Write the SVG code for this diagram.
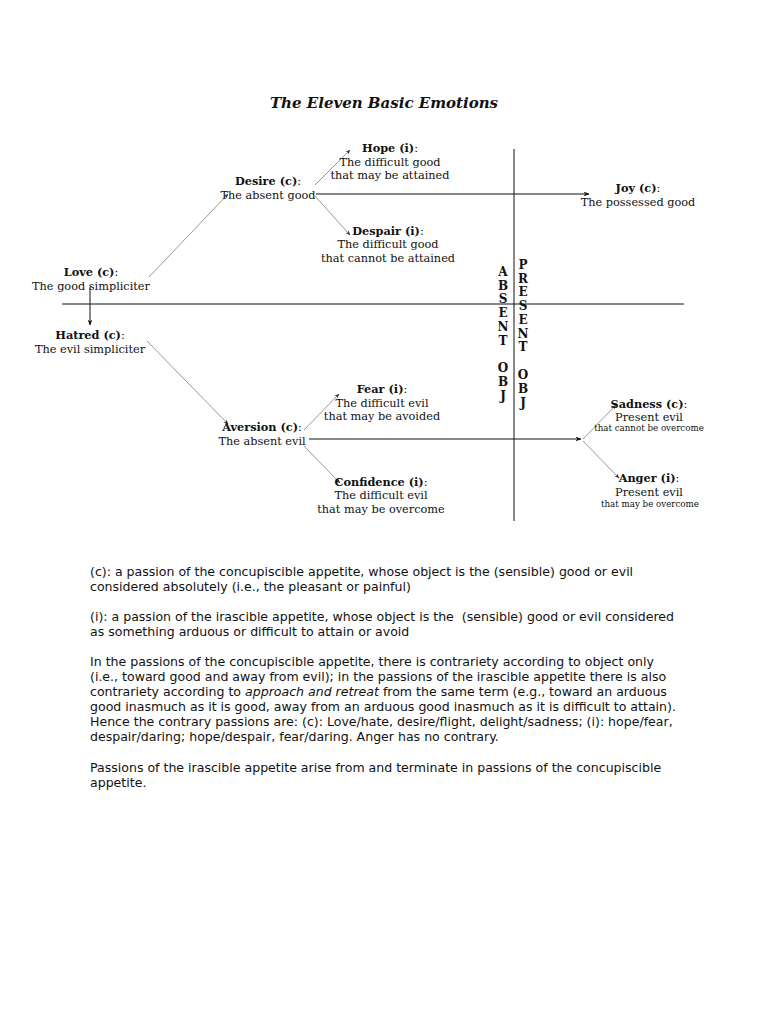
<svg xmlns="http://www.w3.org/2000/svg" width="768" height="1024" viewBox="0 0 768 1024">
<style>
.t{font-family:"DejaVu Serif",serif;font-size:11.3px;fill:#111;text-anchor:middle}
.b{font-weight:bold}
.s{font-size:8.7px}
.title{font-family:"DejaVu Serif",serif;font-size:15px;font-weight:bold;font-style:italic;text-anchor:middle;fill:#111}
.ax{font-family:"DejaVu Serif",serif;font-size:12px;font-weight:bold;text-anchor:middle;fill:#111}
.body{font-family:"DejaVu Sans",sans-serif;font-size:12.55px;fill:#111}
.g{stroke:#999;stroke-width:1;fill:none;marker-end:url(#ag)}
.k{stroke:#111;stroke-width:1;fill:none;marker-end:url(#ak)}
.axis{stroke:#111;stroke-width:1;fill:none}
</style>
<defs>
<marker id="ag" viewBox="0 0 10 10" refX="9" refY="5" markerWidth="5" markerHeight="5" orient="auto" markerUnits="userSpaceOnUse"><path d="M0,1 L10,5 L0,9 L3,5 z" fill="#333"/></marker>
<marker id="ak" viewBox="0 0 10 10" refX="9" refY="5" markerWidth="6" markerHeight="6" orient="auto" markerUnits="userSpaceOnUse"><path d="M0,1 L10,5 L0,9 L3,5 z" fill="#111"/></marker>
</defs>
<rect width="768" height="1024" fill="#fff"/>
<text class="title" x="384" y="108">The Eleven Basic Emotions</text>

<g id="axes">
<line class="axis" x1="514" y1="149" x2="514" y2="521"/>
<line class="axis" x1="62" y1="304" x2="684" y2="304"/>
</g>
<g id="absent-obj">
<text class="ax" x="503" y="276">A</text><text class="ax" x="503" y="290">B</text><text class="ax" x="503" y="303">S</text><text class="ax" x="503" y="317">E</text><text class="ax" x="503" y="331">N</text><text class="ax" x="503" y="345">T</text><text class="ax" x="503" y="372">O</text><text class="ax" x="503" y="386">B</text><text class="ax" x="503" y="400">J</text>
</g>
<g id="present-obj">
<text class="ax" x="523" y="269">P</text><text class="ax" x="523" y="283">R</text><text class="ax" x="523" y="296">E</text><text class="ax" x="523" y="310">S</text><text class="ax" x="523" y="324">E</text><text class="ax" x="523" y="338">N</text><text class="ax" x="523" y="351">T</text><text class="ax" x="523" y="379">O</text><text class="ax" x="523" y="393">B</text><text class="ax" x="523" y="407">J</text>
</g>

<g id="connectors">
<line class="g" x1="149" y1="277" x2="228" y2="194"/>
<line class="k" x1="90" y1="287" x2="90" y2="325"/>
<line class="g" x1="315" y1="185" x2="350" y2="150"/>
<line class="g" x1="315" y1="196" x2="350" y2="235"/>
<line class="k" x1="316" y1="194" x2="589" y2="194"/>
<line class="g" x1="147" y1="341" x2="228" y2="424"/>
<line class="g" x1="304" y1="430" x2="339" y2="394"/>
<line class="g" x1="304" y1="446" x2="340" y2="483"/>
<line class="k" x1="309" y1="439" x2="581" y2="439"/>
<line class="g" x1="583" y1="439" x2="616" y2="405"/>
<line class="g" x1="583" y1="441" x2="619" y2="478"/>
</g>

<g id="hope"><text class="t" x="390" y="152"><tspan class="b">Hope (i)</tspan>:</text><text class="t" x="390" y="166">The difficult good</text><text class="t" x="390" y="179">that may be attained</text></g>
<g id="desire"><text class="t" x="268" y="185"><tspan class="b">Desire (c)</tspan>:</text><text class="t" x="268" y="199">The absent good</text></g>
<g id="joy"><text class="t" x="638" y="192"><tspan class="b">Joy (c)</tspan>:</text><text class="t" x="638" y="206">The possessed good</text></g>
<g id="despair"><text class="t" x="388" y="235"><tspan class="b">Despair (i)</tspan>:</text><text class="t" x="388" y="248">The difficult good</text><text class="t" x="388" y="262">that cannot be attained</text></g>
<g id="love"><text class="t" x="91" y="276"><tspan class="b">Love (c)</tspan>:</text><text class="t" x="91" y="290">The good simpliciter</text></g>
<g id="hatred"><text class="t" x="90" y="339"><tspan class="b">Hatred (c)</tspan>:</text><text class="t" x="90" y="353">The evil simpliciter</text></g>
<g id="fear"><text class="t" x="382" y="393"><tspan class="b">Fear (i)</tspan>:</text><text class="t" x="382" y="407">The difficult evil</text><text class="t" x="382" y="420">that may be avoided</text></g>
<g id="aversion"><text class="t" x="262" y="431"><tspan class="b">Aversion (c)</tspan>:</text><text class="t" x="262" y="445">The absent evil</text></g>
<g id="confidence"><text class="t" x="381" y="486"><tspan class="b">Confidence (i)</tspan>:</text><text class="t" x="381" y="499">The difficult evil</text><text class="t" x="381" y="513">that may be overcome</text></g>
<g id="sadness"><text class="t" x="649" y="408"><tspan class="b">Sadness (c)</tspan>:</text><text class="t" x="649" y="421">Present evil</text><text class="t s" x="649" y="431">that cannot be overcome</text></g>
<g id="anger"><text class="t" x="649" y="482"><tspan class="b">Anger (i)</tspan>:</text><text class="t" x="649" y="496">Present evil</text><text class="t s" x="650" y="507">that may be overcome</text></g>

<g id="notes">
<text class="body" x="90" y="576">(c): a passion of the concupiscible appetite, whose object is the (sensible) good or evil</text>
<text class="body" x="90" y="591">considered absolutely (i.e., the pleasant or painful)</text>
<text class="body" x="90" y="621" xml:space="preserve">(i): a passion of the irascible appetite, whose object is the  (sensible) good or evil considered</text>
<text class="body" x="90" y="636">as something arduous or difficult to attain or avoid</text>
<text class="body" x="90" y="666">In the passions of the concupiscible appetite, there is contrariety according to object only</text>
<text class="body" x="90" y="681">(i.e., toward good and away from evil); in the passions of the irascible appetite there is also</text>
<text class="body" x="90" y="696">contrariety according to <tspan font-style="italic">approach and retreat</tspan> from the same term (e.g., toward an arduous</text>
<text class="body" x="90" y="711">good inasmuch as it is good, away from an arduous good inasmuch as it is difficult to attain).</text>
<text class="body" x="90" y="726">Hence the contrary passions are: (c): Love/hate, desire/flight, delight/sadness; (i): hope/fear,</text>
<text class="body" x="90" y="741">despair/daring; hope/despair, fear/daring. Anger has no contrary.</text>
<text class="body" x="90" y="772">Passions of the irascible appetite arise from and terminate in passions of the concupiscible</text>
<text class="body" x="90" y="787">appetite.</text>
</g>
</svg>
